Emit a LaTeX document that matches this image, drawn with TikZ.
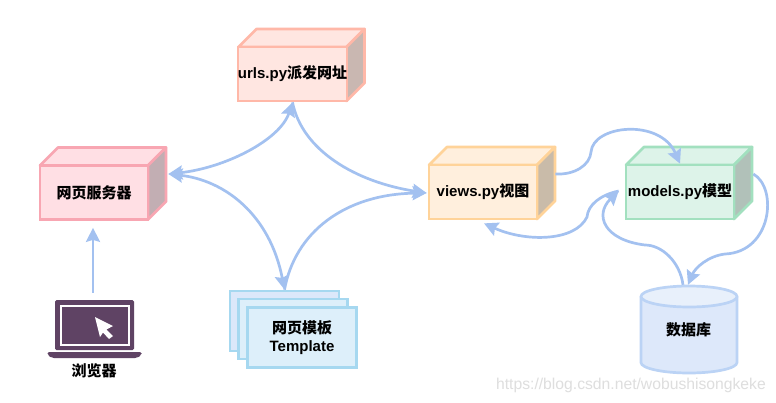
\documentclass[tikz,border=0pt]{standalone}
\usepackage{fontspec}
\setmainfont{Liberation Sans}
\newfontfamily\cjkfont{Noto Sans CJK SC}
\usetikzlibrary{arrows.meta,calc}

\definecolor{flowblue}{HTML}{A3C1F0}
\definecolor{sheetline}{HTML}{A6D8F0}
\definecolor{sheetfill}{HTML}{DDEFFA}
\definecolor{sheetback}{HTML}{DCE8FA}
\definecolor{dbline}{HTML}{BBD3F5}
\definecolor{dbfill}{HTML}{DDE8FA}
\definecolor{dbtop}{HTML}{E8F0FB}
\definecolor{laptopfill}{HTML}{5F4364}
\definecolor{urlsfill}{HTML}{FFE6E1}
\definecolor{urlsline}{HTML}{FFB8A8}
\definecolor{urlsside}{HTML}{C9B7B1}
\definecolor{serverfill}{HTML}{FFDFE4}
\definecolor{serverline}{HTML}{F8A6B2}
\definecolor{serverside}{HTML}{C2AEB3}
\definecolor{viewsfill}{HTML}{FFEFDD}
\definecolor{viewsline}{HTML}{FFD399}
\definecolor{viewsside}{HTML}{C9BBA9}
\definecolor{modelsfill}{HTML}{DDF3E9}
\definecolor{modelsline}{HTML}{A2E0BF}
\definecolor{modelsside}{HTML}{B1C1B9}

\tikzset{
    tip/.tip={Stealth[length=14pt,width=14pt,inset=2pt]},
    flow/.style={flowblue,line width=2.7pt,-tip},
    twoway/.style={flowblue,line width=2.7pt,tip-tip},
    label/.style={font=\fontsize{15}{18}\selectfont\bfseries,text=black,align=center,inner sep=0pt},
    front/.style={rectangle,line width=2.7pt,minimum width=108pt,minimum height=54pt,inner sep=0pt,
        font=\fontsize{15}{18}\selectfont\bfseries,align=center},
    sheet/.style={rectangle,draw=sheetline,fill=sheetfill,line width=2.7pt,minimum width=109pt,minimum height=60pt}
}

% box with a top and a side face behind the named front node
\newcommand{\cube}[4]{
    \draw[draw=#1line,fill=#1fill,line width=2.7pt,line join=round] (#2-54,#3-27) -- ++(18,-18) -- ++(108,0) -- ++(-18,18) -- cycle;
    \draw[draw=#1line,fill=#1side,line width=2.7pt,line join=round] (#2+54,#3-27) -- ++(18,-18) -- ++(0,54) -- ++(-18,18) -- cycle;
    \node[front,draw=#1line,fill=#1fill] (#1) at (#2,#3) {#4};
}

\begin{document}
\begin{tikzpicture}[x=1pt,y=-1pt]
    \useasboundingbox[fill=white] (0,0) rectangle (776,402);

    % The boxes
    \cube{urls}{292.5}{74}{urls.py{\cjkfont 派发网址}}
    \cube{server}{94}{192.5}{{\cjkfont 网页服务器}}
    \cube{views}{483}{192}{views.py{\cjkfont 视图}}
    \cube{models}{680}{192}{models.py{\cjkfont 模型}}

    % The stacked template pages
    \node[sheet,fill=sheetback] (pageA) at (284.5,321) {};
    \node[sheet] (pageB) at (293,329) {};
    \node[sheet] (pageC) at (302,337.5) {};
    \node[label] (template) at (302,338) {{\cjkfont 网页模板}\\Template};

    % The database
    \node[minimum width=96pt,minimum height=87pt,inner sep=0pt] (db) at (689,329.5) {};
    \draw[draw=dbline,fill=dbfill,line width=2.7pt] (641,296.5) -- (641,362.5) arc[start angle=180,end angle=0,x radius=48,y radius=10.5] -- (737,296.5);
    \draw[draw=dbline,fill=dbtop,line width=2.7pt] (689,296.5) ellipse[x radius=48,y radius=10.5];
    \node[label] (dbtext) at (688.5,330) {{\cjkfont 数据库}};

    % The laptop
    \node[fill=laptopfill,rounded corners=1.5pt,minimum width=79pt,minimum height=50pt,inner sep=0pt] (laptop) at (94.5,325) {};
    \draw[white,line width=2pt] ($(laptop.south west)+(6.5,-5)$) rectangle ($(laptop.north east)+(-5,6.5)$);
    \fill[laptopfill,rounded corners=2pt] (47.5,352) -- (141.5,352) -- (141.5,355) -- (137,358) -- (52,358) -- (47.5,355) -- cycle;
    \fill[white] (95,317) -- (113,326) -- (106.5,329.5) -- (113,336) -- (109,339) -- (103,332.5) -- (100,337) -- cycle;
    \node[label] (browser) at (94,371) {{\cjkfont 浏览器}};

    % The connectors
    \draw[flow] ($(laptop.north)+(-1.5,-7)$) -- ($(server.south)+(-1,7)$);
    \draw[twoway] ($(server.east)+(19,-18.5)$) .. controls (225,168) and (280,140) .. (urls.south);
    \draw[flow] (urls.south) .. controls (302,150) and (355,182) .. ($(views.west)+(-1,1)$);
    \draw[twoway] ($(server.east)+(19,-18.5)$) .. controls (225,180) and (270,215) .. (pageA.north);
    \draw[flow] (pageA.north) .. controls (295,232) and (345,194) .. ($(views.west)+(-1,1)$);
    \draw[flow] ($(views.east)+(17,-18)$) .. controls (575,175) and (590,165) .. (591,152) .. controls (593,125) and (660,118) .. (models.north);
    \draw[flow] ($(models.west)+(-6,-1)$) .. controls (600,195) and (588,205) .. (587,217) .. controls (575,242) and (525,242) .. ($(views.south)+(1,3)$);
    \draw[flow] ($(db.north)+(-6,-1)$) .. controls (680,262) and (662,245) .. (645,245) .. controls (604,240) and (594,215) .. ($(models.west)+(-6,-1)$);
    \draw[flow] ($(models.east)+(18,-18)$) .. controls (778,188) and (772,252) .. (725,254) .. controls (708,256) and (695,268) .. ($(db.north)+(-1,-1)$);

    % Watermark
    \node[text=black!13,font=\fontsize{15.7}{18}\selectfont,anchor=east,inner sep=0pt] (mark) at (766,385) {https://blog.csdn.net/wobushisongkeke};
\end{tikzpicture}
\end{document}
